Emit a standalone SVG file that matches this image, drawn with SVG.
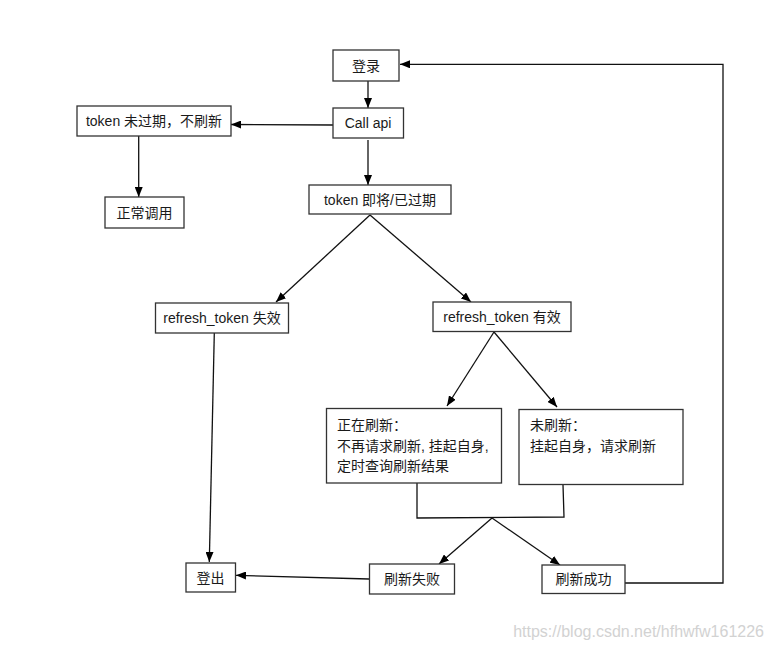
<svg xmlns="http://www.w3.org/2000/svg" width="774" height="650" viewBox="0 0 774 650">
<style>
.box{fill:#fff;stroke:#333;stroke-width:1.3}
.t{font-family:"Liberation Sans","Noto Sans CJK SC",sans-serif;font-size:14px;fill:#1a1a1a}
.c{text-anchor:middle}
.ln{fill:none;stroke:#111;stroke-width:1.3}
.wm{font-family:"Liberation Sans","Noto Sans CJK SC",sans-serif;font-size:16px;fill:#d2d2d2;text-anchor:end}
</style>
<defs>
<marker id="ah" markerUnits="userSpaceOnUse" markerWidth="10" markerHeight="8" refX="10" refY="4" orient="auto">
<path d="M0,0 L10,4 L0,8 z" fill="#000"/>
</marker>
</defs>
<rect width="774" height="650" fill="#fff"/>
<g id="connectors">
<line class="ln" x1="368" y1="81" x2="368" y2="108" marker-end="url(#ah)"/>
<line class="ln" x1="333" y1="125" x2="231" y2="124.5" marker-end="url(#ah)"/>
<line class="ln" x1="138.7" y1="136" x2="138.7" y2="197" marker-end="url(#ah)"/>
<line class="ln" x1="368" y1="140" x2="368" y2="185" marker-end="url(#ah)"/>
<line class="ln" x1="370" y1="215" x2="276" y2="302" marker-end="url(#ah)"/>
<line class="ln" x1="370" y1="215" x2="471" y2="302" marker-end="url(#ah)"/>
<line class="ln" x1="494" y1="332" x2="447" y2="406" marker-end="url(#ah)"/>
<line class="ln" x1="494" y1="332" x2="557" y2="407" marker-end="url(#ah)"/>
<line class="ln" x1="214.3" y1="333" x2="209.3" y2="562" marker-end="url(#ah)"/>
<polyline class="ln" points="417,483 417,518 564,517 563,485"/>
<line class="ln" x1="492" y1="518" x2="439" y2="564" marker-end="url(#ah)"/>
<line class="ln" x1="492" y1="518" x2="560" y2="565" marker-end="url(#ah)"/>
<line class="ln" x1="369" y1="579" x2="236" y2="575.3" marker-end="url(#ah)"/>
<polyline class="ln" points="625,583 723,583 723,64.3 400,64.3" marker-end="url(#ah)"/>
</g>
<g id="login">
<rect class="box" x="333" y="50" width="66" height="31"/>
<text class="t c" x="366" y="70.5">登录</text>
</g>
<g id="callapi">
<rect class="box" x="333" y="108" width="70.5" height="30"/>
<text class="t c" x="368" y="128">Call api</text>
</g>
<g id="notexpired">
<rect class="box" x="77" y="106" width="154" height="30"/>
<text class="t c" x="154" y="126">token 未过期，不刷新</text>
</g>
<g id="normal">
<rect class="box" x="105" y="197" width="79" height="31"/>
<text class="t c" x="144.5" y="217.5">正常调用</text>
</g>
<g id="expiring">
<rect class="box" x="309" y="185" width="142" height="29"/>
<text class="t c" x="380" y="204.5">token 即将/已过期</text>
</g>
<g id="refreshinvalid">
<rect class="box" x="155.5" y="303" width="133" height="30"/>
<text class="t c" x="222" y="323">refresh_token 失效</text>
</g>
<g id="refreshvalid">
<rect class="box" x="433" y="302" width="138" height="29.5"/>
<text class="t c" x="502" y="322">refresh_token 有效</text>
</g>
<g id="refreshing">
<rect class="box" x="326.5" y="408.5" width="175" height="74.5"/>
<text class="t" x="337" y="430">正在刷新：</text>
<text class="t" x="337" y="451">不再请求刷新, 挂起自身,</text>
<text class="t" x="337" y="471">定时查询刷新结果</text>
</g>
<g id="notrefreshing">
<rect class="box" x="519" y="409.5" width="164" height="75"/>
<text class="t" x="530" y="430">未刷新：</text>
<text class="t" x="530" y="451">挂起自身，请求刷新</text>
</g>
<g id="logout">
<rect class="box" x="186" y="563" width="49.5" height="29"/>
<text class="t c" x="210.5" y="582.5">登出</text>
</g>
<g id="refreshfail">
<rect class="box" x="369.5" y="564" width="85" height="30"/>
<text class="t c" x="412" y="584">刷新失败</text>
</g>
<g id="refreshok">
<rect class="box" x="542" y="565" width="83" height="28.5"/>
<text class="t c" x="583.5" y="584">刷新成功</text>
</g>
<text class="wm" x="764" y="637">https://blog.csdn.net/hfhwfw161226</text>
</svg>
